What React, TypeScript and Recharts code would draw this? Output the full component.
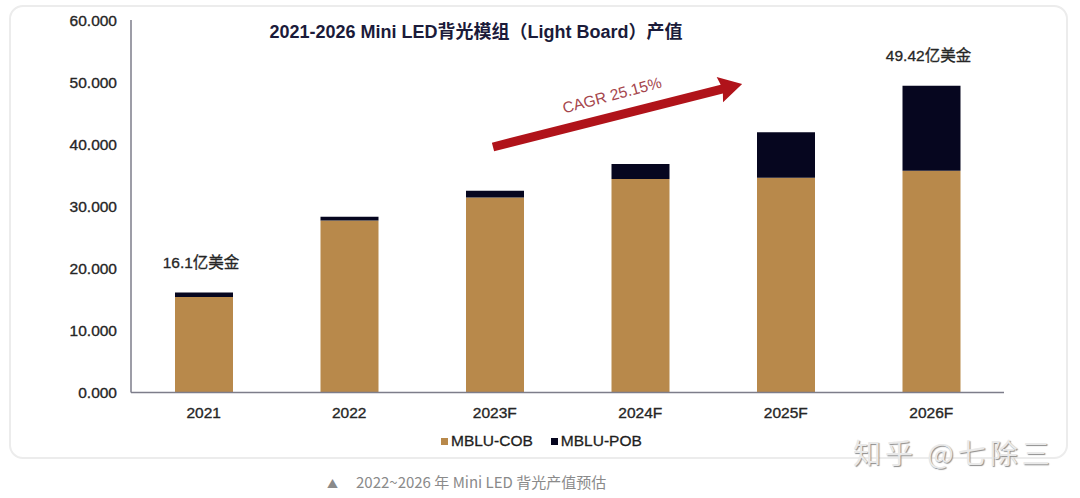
import { BarChart, Bar, XAxis, YAxis, Legend, LabelList } from "recharts";

const years = ["2021", "2022", "2023F", "2024F", "2025F", "2026F"];
const cobValues = [15.4, 27.7, 31.4, 34.4, 34.6, 35.7];
const pobValues = [0.7, 0.6, 1.1, 2.4, 7.3, 13.72];
const totalLabels = ["16.1亿美金", "", "", "", "", "49.42亿美金"];
const yTicks = [0, 10, 20, 30, 40, 50, 60];

const COB_COLOR = "#b8894b";
const POB_COLOR = "#06061f";
const FONT = "'Liberation Sans', Arial, 'Noto Sans CJK SC', sans-serif";

const data = years.map((year, i) => ({
  year,
  cob: cobValues[i],
  pob: pobValues[i],
  label: totalLabels[i],
}));

const TotalLabel = (props: any) => {
  const { x, y, width, value } = props;
  if (!value) return null;
  return (
    <text
      x={x + width / 2 - 3}
      y={y - 30}
      textAnchor="middle"
      dominantBaseline="central"
      fontSize={15.5}
      fill="#262626"
      fontFamily={FONT}
      stroke="#262626"
      strokeWidth={0.3}
    >
      {value}
    </text>
  );
};

const LegendContent = () => (
  <div style={{ display: "flex", alignItems: "center", gap: 18, fontFamily: FONT, fontSize: 15.5, color: "#1e1e1e", WebkitTextStroke: "0.3px #1e1e1e" }}>
    {[
      { name: "MBLU-COB", color: COB_COLOR },
      { name: "MBLU-POB", color: POB_COLOR },
    ].map((item) => (
      <div key={item.name} style={{ display: "flex", alignItems: "center", gap: 3 }}>
        <div style={{ width: 7, height: 7, background: item.color }} />
        <span>{item.name}</span>
      </div>
    ))}
  </div>
);

const tickStyle = { fill: "#262626", fontSize: 15.5, fontFamily: FONT, stroke: "#262626", strokeWidth: 0.35 };

const App = () => (
  <div style={{ position: "absolute", left: 0, top: 0, width: 1080, height: 498, background: "#fff", overflow: "hidden" }}>
    {/* card frame */}
    <div
      style={{
        position: "absolute",
        left: 9,
        top: 5,
        width: 1059,
        height: 454,
        border: "2px solid #ececec",
        borderRadius: 14,
        boxSizing: "border-box",
      }}
    />
    <BarChart
      width={1080}
      height={498}
      data={data}
      margin={{ top: 20, right: 76, left: 0, bottom: 75.5 }}
      barSize={58}
      style={{ position: "absolute", left: 0, top: 0 }}
    >
      <XAxis
        dataKey="year"
        height={30}
        tickLine={false}
        tickSize={6}
        tickMargin={8}
        axisLine={{ stroke: "#7d7d8a", strokeWidth: 1.5 }}
        tick={tickStyle}
      />
      <YAxis
        width={131}
        domain={[0, 60]}
        ticks={yTicks}
        tickLine={false}
        tickSize={6}
        tickMargin={8}
        tickFormatter={(v: number) => v.toFixed(3)}
        axisLine={{ stroke: "#7d7d8a", strokeWidth: 1.5 }}
        tick={tickStyle}
      />
      <Legend
        verticalAlign="middle"
        align="center"
        layout="horizontal"
        content={<LegendContent />}
        wrapperStyle={{ top: 432, left: 441, width: 260 }}
      />
      <Bar dataKey="cob" stackId="a" fill={COB_COLOR} isAnimationActive={false} />
      <Bar dataKey="pob" stackId="a" fill={POB_COLOR} isAnimationActive={false}>
        <LabelList dataKey="label" content={<TotalLabel />} />
      </Bar>
    </BarChart>

    {/* title, arrow and notes */}
    <svg width={1080} height={498} style={{ position: "absolute", left: 0, top: 0, pointerEvents: "none" }}>
      <text
        x={476}
        y={32}
        textAnchor="middle"
        dominantBaseline="central"
        fontSize={18}
        fontWeight="bold"
        fill="#1b1b3a"
        fontFamily={FONT}
      >
        2021-2026 Mini LED背光模组（Light Board）产值
      </text>
      <g transform="translate(493,147) rotate(-14.2)">
        <polygon points="0,-4.5 236,-4.5 234,-13 257,0 234,13 236,4.5 0,4.5" fill="#b0131a" />
      </g>
      <text
        x={612}
        y={95}
        textAnchor="middle"
        dominantBaseline="central"
        fontSize={15.5}
        fill="#a5454c"
        fontFamily={FONT}
        transform="rotate(-15 612 95)"
      >
        CAGR 25.15%
      </text>
    </svg>

    <div
      style={{
        position: "absolute",
        left: 853,
        top: 434,
        fontFamily: "'Noto Sans CJK SC', sans-serif",
        fontSize: 28,
        letterSpacing: 4,
        color: "#e9e9e9",
        textShadow: "1px 1px 1px #8d8d8d",
        whiteSpace: "nowrap",
        lineHeight: "36px",
      }}
    >
      知乎 @七除三
    </div>
    <div
      style={{
        position: "absolute",
        left: 327,
        top: 471,
        fontFamily: "'Noto Sans CJK SC', sans-serif",
        fontSize: 15,
        color: "#8a8a8a",
        whiteSpace: "nowrap",
        lineHeight: "22px",
      }}
    >
      <span style={{ fontSize: 11, marginRight: 18 }}>▲</span>2022~2026 年 Mini LED 背光产值预估
    </div>
  </div>
);

export default App;
